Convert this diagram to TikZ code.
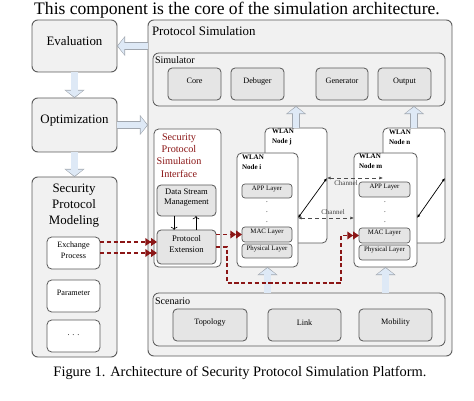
\documentclass[tikz,border=0pt]{standalone}
\usepackage{fontspec}
\setmainfont{Liberation Serif}
\usetikzlibrary{fit,arrows.meta,positioning}
\definecolor{boxgray}{RGB}{241,241,241}
\definecolor{innergray}{RGB}{229,229,229}
\definecolor{edgegray}{RGB}{90,90,90}
\definecolor{myred}{RGB}{139,22,22}
\definecolor{arrowblue}{RGB}{222,233,246}
\definecolor{arrowedge}{RGB}{160,166,174}

\begin{document}
\begin{tikzpicture}[x=0.03cm,y=-0.03cm,
	every node/.style={inner sep=0pt,outer sep=0pt},
	bigbox/.style={draw=edgegray,line width=0.8pt,fill=boxgray,rounded corners=5pt},
	groupbox/.style={draw=edgegray,line width=0.7pt,fill=boxgray,rounded corners=5pt},
	itembox/.style={draw=edgegray,line width=0.7pt,fill=innergray,rounded corners=3.5pt,align=center,font=\fontsize{7}{8.5}\selectfont},
	whitebox/.style={draw=edgegray,line width=0.7pt,fill=white,rounded corners=4pt,align=center,font=\fontsize{7}{9}\selectfont},
	layerbox/.style={draw=edgegray,line width=0.6pt,fill=innergray,rounded corners=2.5pt,font=\fontsize{5.8}{7}\selectfont},
	wlanlabel/.style={anchor=north west,align=left,font=\fontsize{6}{8.5}\selectfont\bfseries},
	blockarrow/.style={line width=6.8pt,draw=arrowedge,-{Triangle[length=7pt,width=17pt]},
		postaction={draw=arrowblue,line width=5.4pt,-{Triangle[length=5.4pt,width=14.2pt]},shorten >=0.9pt}},
	redarrow/.style={draw=myred,line width=1.7pt,dash pattern=on 3.6pt off 2.2pt,
		-{Triangle[length=5pt,width=6.5pt]Triangle[length=5pt,width=6.5pt]}},
	channel/.style={draw=black!70,line width=0.5pt,dashed,{Latex[length=3pt,width=2.6pt]}-{Latex[length=3pt,width=2.6pt]}},
	link/.style={draw=black,line width=0.6pt,{Latex[length=3pt,width=2.6pt]}-{Latex[length=3pt,width=2.6pt]}},
	]
	\useasboundingbox (0,0) rectangle (474,401);
	
	\node[font=\fontsize{15}{18}\selectfont] (heading) at (237,10) {This component is the core of the simulation architecture.};
	
	% left column
	\node[bigbox,fit={(32,20) (117,72)},font=\fontsize{11}{13}\selectfont] (eval) {Evaluation};
	\node[bigbox,fit={(32,98) (117,152)},font=\fontsize{11}{13}\selectfont] (opt) {Optimization};
	\node[bigbox,fit={(32,177) (117,357)}] (model) {};
	\node[font=\fontsize{11}{13.6}\selectfont,align=center] (modeltext) at (74,206) {Security\\Protocol\\Modeling};
	\node[whitebox,fit={(47,237) (100,269)}] (exch) {Exchange\\Process};
	\node[whitebox,fit={(47,280) (100,312)}] (param) {Parameter};
	\node[whitebox,fit={(47,320) (100,352)}] (more) {. . .};
	
	% protocol simulation
	\node[bigbox,fit={(148,20) (452,356)}] (psim) {};
	\node[anchor=west,font=\fontsize{11}{13}\selectfont] (psimtext) at (152,31) {Protocol Simulation};
	
	% simulator
	\node[groupbox,fit={(153,53) (445,106)}] (sim) {};
	\node[anchor=west,font=\fontsize{8.6}{10}\selectfont] (simtext) at (155,60) {Simulator};
	\node[itembox,fit={(168,68) (221,100)}] (core) {Core};
	\node[itembox,fit={(231,68) (284,100)}] (debug) {Debuger};
	\node[itembox,fit={(316,68) (368,100)}] (gen) {Generator};
	\node[itembox,fit={(378,68) (431,100)}] (out) {Output};
	
	% interface
	\node[whitebox,fit={(154,129) (221,267)}] (iface) {};
	\node[font=\fontsize{8.7}{10.5}\selectfont,text=myred,align=center] (ifacetext) at (179,155.5) {Security\\Protocol\\Simulation\\Interface};
	\node[itembox,fit={(157,185) (216,216)},font=\fontsize{7.3}{9}\selectfont] (dsm) {Data Stream\\Management};
	\node[itembox,fit={(157,230) (216,264)},font=\fontsize{7.3}{9}\selectfont] (pext) {Protocol\\Extension};
	\draw[->,line width=0.5pt] ([xshift=-10.6pt]dsm.south) -- ([xshift=-10.6pt]pext.north);
	\draw[->,line width=0.5pt] ([xshift=8.1pt]pext.north) -- ([xshift=8.1pt]dsm.south);
	
	% WLAN nodes
	\node[whitebox,fit={(265,128) (327,243)}] (nodej) {};
	\node[wlanlabel] (nodejtext) at (272,129) {WLAN\\Node j};
	\node[whitebox,fit={(237,153) (298,267)}] (nodei) {};
	\node[wlanlabel] (nodeitext) at (242,155) {WLAN\\Node i};
	\node[layerbox,fit={(242,184) (292,198)}] (appi) {APP Layer};
	\node[font=\fontsize{6}{8.5}\selectfont,align=center] (dotsi) at (267,212) {.\\.\\.};
	\node[layerbox,fit={(242,227) (292,242)}] (maci) {MAC Layer};
	\node[layerbox,fit={(242,244) (292,258)}] (phyi) {Physical Layer};
	
	\node[whitebox,fit={(383,128) (445,243)}] (noden) {};
	\node[wlanlabel] (nodentext) at (389,130) {WLAN\\Node n};
	\node[whitebox,fit={(354,153) (417,267)}] (nodem) {};
	\node[wlanlabel] (nodemtext) at (359,154) {WLAN\\Node m};
	\node[layerbox,fit={(359,182) (410,197)}] (appm) {APP Layer};
	\node[font=\fontsize{6}{8.5}\selectfont,align=center] (dotsm) at (385,212) {.\\.\\.};
	\node[layerbox,fit={(359,228) (410,243)}] (macm) {MAC Layer};
	\node[layerbox,fit={(359,245) (410,260)}] (phym) {Physical Layer};
	
	% scenario
	\node[groupbox,fit={(153,293) (445,346)}] (scen) {};
	\node[anchor=west,font=\fontsize{8.6}{10}\selectfont] (scentext) at (155,301) {Scenario};
	\node[itembox,fit={(173,309) (247,341)}] (topo) {Topology};
	\node[itembox,fit={(268,309) (341,341)}] (link) {Link};
	\node[itembox,fit={(359,309) (432,341)}] (mob) {Mobility};
	
	\node[font=\fontsize{12.3}{14}\selectfont] (caption) at (240,373) {Figure 1. Architecture of Security Protocol Simulation Platform.};
	
	% block arrows
	\draw[blockarrow] (eval.east -| psim.west) -- (eval.east);
	\draw[blockarrow] (opt.east) -- (opt.east -| psim.west);
	\draw[blockarrow] (eval.south) -- (opt.north);
	\draw[blockarrow] (opt.south) -- (model.north);
	\draw[blockarrow] (nodej.north) -- (nodej.north |- sim.south);
	\draw[blockarrow] (noden.north) -- (noden.north |- sim.south);
	\draw[blockarrow] (scen.north -| nodei.south) -- (nodei.south);
	\draw[blockarrow] (scen.north -| nodem.south) -- (nodem.south);
	
	% channels
	\coordinate (jport) at (nodej.east |- 0,178);
	\coordinate (iport) at (nodei.east |- 0,218);
	\coordinate (nport) at (noden.east |- 0,178);
	\coordinate (mport) at (nodem.east |- 0,218);
	\draw[link] (jport) -- (iport);
	\draw[link] (nport) -- (mport);
	\draw[channel] (jport) -- (noden.west |- jport);
	\draw[channel] (iport) -- (nodem.west |- iport);
	\node[font=\fontsize{6}{7}\selectfont,text=black!75] (chtop) at (346,183) {Channel};
	\node[font=\fontsize{6}{7}\selectfont,text=black!75] (chbot) at (333,212) {Channel};
	
	% red dashed flows
	\coordinate (e1) at ([yshift=9.4pt]exch.east);
	\coordinate (p1) at (pext.east |- maci.west);
	\coordinate (r1) at (227,283);
	\coordinate (r2) at (341,283);
	\draw[redarrow] (e1) -- (e1 -| pext.west);
	\draw[redarrow] (exch.east) -- (exch.east -| pext.west);
	\draw[redarrow] (p1) -- (maci.west);
	\draw[redarrow] (pext.east) -| (r1) -- (r2) |- (macm.west);
\end{tikzpicture}
\end{document}
